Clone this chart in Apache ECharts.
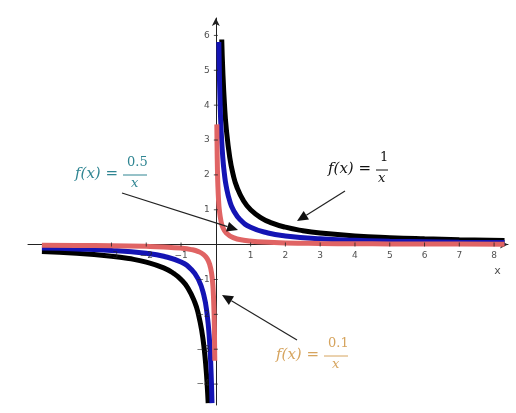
<!DOCTYPE html>
<html><head><meta charset="utf-8">
<script src="https://cdn.jsdelivr.net/npm/echarts@6/dist/echarts.min.js"></script>
<style>html,body{margin:0;background:#fff}#c{width:516px;height:413px}</style>
</head><body><div id="c"></div>
<script>
// sample x positions for each branch (function is f(x)=k/x)
var xsBlackNeg = [-5, -4, -3, -2.5, -2, -1.5, -1.2, -1, -0.8, -0.6, -0.5, -0.4, -0.33, -0.28, -0.25, -0.22];
var xsBlackPos = [0.17, 0.2, 0.25, 0.3, 0.4, 0.5, 0.6, 0.8, 1, 1.3, 1.6, 2, 2.5, 3, 4, 5, 6, 7, 8.3];
var xsBlueNeg = [-5, -4, -3, -2, -1.5, -1, -0.7, -0.5, -0.35, -0.25, -0.18, -0.14, -0.11];
var xsBluePos = [0.086, 0.1, 0.12, 0.15, 0.2, 0.25, 0.3, 0.4, 0.5, 0.7, 1, 1.5, 2, 3, 4, 5, 6, 7, 8.3];
var xsRedNeg = [-5, -4, -3, -2, -1.5, -1, -0.7, -0.5, -0.35, -0.25, -0.18, -0.12, -0.08, -0.05, -0.04, -0.03];
var xsRedPos = [0.029, 0.035, 0.045, 0.06, 0.08, 0.1, 0.15, 0.2, 0.3, 0.5, 0.8, 1.2, 2, 3, 4, 5, 6, 7, 8.3];
var xTicks = [-3, -2, -1, 1, 2, 3, 4, 5, 6, 7, 8];
var yTicks = [-4, -3, -2, -1, 1, 2, 3, 4, 5, 6];

function pts(xs, k) {
  return xs.map(function (x) { return [x, k / x]; });
}
function branch(data, color) {
  return { type: 'line', data: data, showSymbol: false, smooth: true,
    lineStyle: { color: color, width: 5 }, z: 3 };
}
function fmt(v) { return v < 0 ? '\u2212' + (-v) : String(v); }
var black = '#000000', blue = '#1414b4', red = '#e06464';

var chart = echarts.init(document.getElementById('c'));

function frac(x, y, num, color) {
  var f = '"DejaVu Serif", serif';
  return [
    { type: 'text', left: x, top: y, style: { text: 'f(x) =', fill: color, font: 'italic 15px ' + f } },
    { type: 'text', left: x + 52, top: y - 11, style: { text: num, fill: color, font: '13px ' + f, align: 'center' } },
    { type: 'line', shape: { x1: x + 48, y1: y + 8, x2: x + 48 + (num.length > 1 ? 24 : 12), y2: y + 8 }, style: { stroke: color, lineWidth: 1 } },
    { type: 'text', left: x + (num.length > 1 ? 56 : 50), top: y + 10, style: { text: 'x', fill: color, font: 'italic 13px ' + f } }
  ];
}
function arrow(x1, y1, x2, y2) {
  var a = Math.atan2(y2 - y1, x2 - x1), L = 11, w = 5;
  var bx = x2 - L * Math.cos(a), by = y2 - L * Math.sin(a);
  return [
    { type: 'line', shape: { x1: x1, y1: y1, x2: bx, y2: by }, style: { stroke: '#222', lineWidth: 1.2 }, z: 10 },
    { type: 'polygon', shape: { points: [[x2, y2],
      [bx + w * Math.sin(a), by - w * Math.cos(a)], [bx - w * Math.sin(a), by + w * Math.cos(a)]] },
      style: { fill: '#111' }, z: 10 }
  ];
}

var lblFont = { color: '#222', fontSize: 9, fontFamily: 'DejaVu Sans' };

chart.setOption({
  animation: false,
  grid: { left: 28, right: 8, top: 18, bottom: 8 },
  xAxis: {
    type: 'value', min: -5.4, max: 8.4,
    splitLine: { show: false }, axisTick: { show: false }, axisLabel: { show: false },
    axisLine: { onZero: true, symbol: ['none', 'arrow'], symbolSize: [6, 8], lineStyle: { color: '#222' } }
  },
  yAxis: {
    type: 'value', min: -4.6, max: 6.5,
    splitLine: { show: false }, axisTick: { show: false }, axisLabel: { show: false },
    axisLine: { onZero: true, symbol: ['none', 'arrow'], symbolSize: [6, 8], lineStyle: { color: '#222' } }
  },
  series: [
    branch(pts(xsBlackNeg, 1), black), branch(pts(xsBlackPos, 1), black),
    branch(pts(xsBlueNeg, 0.5), blue), branch(pts(xsBluePos, 0.5), blue),
    branch(pts(xsRedNeg, 0.1), red), branch(pts(xsRedPos, 0.1), red),
    { type: 'scatter', symbol: 'rect', symbolSize: [1, 4], itemStyle: { color: '#222' }, z: 5,
      data: xTicks.map(function (v) { return [v, 0]; }),
      label: Object.assign({ show: true, position: 'bottom', distance: 5,
        formatter: function (p) { return fmt(p.value[0]); } }, lblFont) },
    { type: 'scatter', symbol: 'rect', symbolSize: [4, 1], itemStyle: { color: '#222' }, z: 5,
      data: yTicks.map(function (v) { return [0, v]; }),
      label: Object.assign({ show: true, position: 'left', distance: 4,
        formatter: function (p) { return fmt(p.value[1]); } }, lblFont) },
    { type: 'scatter', symbolSize: 0, data: [[8.1, -0.75]],
      label: { show: true, position: 'inside', formatter: 'x', color: '#222', fontSize: 11, fontFamily: 'DejaVu Sans' } }
  ],
  graphic: [].concat(
    frac(75, 167, '0.5', '#2f8592'),
    frac(328, 162, '1', '#111'),
    frac(276, 348, '0.1', '#d6a45e'),
    arrow(122, 193, 238, 230),
    arrow(345, 191, 297, 221),
    arrow(297, 340, 222, 295)
  )
});
</script></body></html>
